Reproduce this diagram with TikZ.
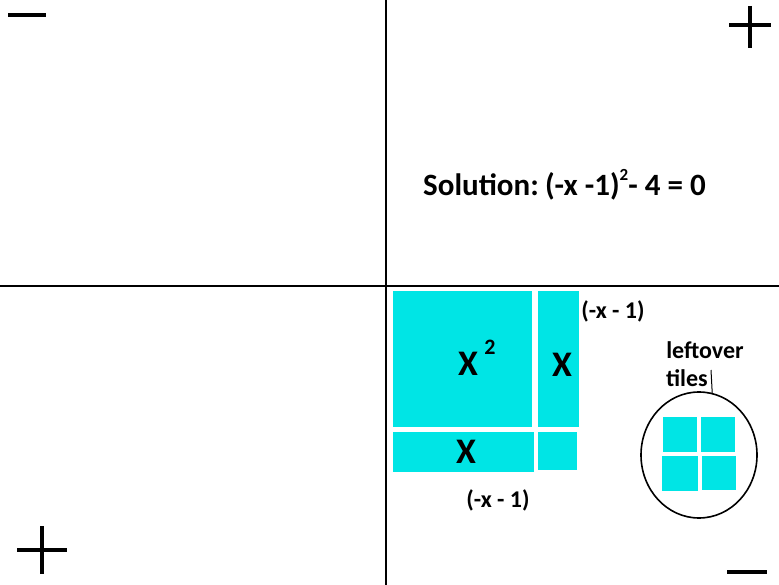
\documentclass[tikz,border=0pt]{standalone}
\usepackage{fontspec}
\setmainfont{Carlito}
\usetikzlibrary{shapes.geometric}
\definecolor{tile}{RGB}{0,229,229}
\tikzset{
  axis/.style={line width=2pt},
  sign/.style={line width=4pt},
  tilebox/.style={fill=tile, draw=none},
  lbl/.style={font=\bfseries\fontsize{24}{26}\selectfont, inner sep=0pt},
  big/.style={font=\bfseries\fontsize{36}{40}\selectfont, inner sep=0pt},
}
\begin{document}
\begin{tikzpicture}[x=1pt,y=-1pt]
\useasboundingbox (0,0) rectangle (779,585);
% axes
\coordinate (vt) at (386,0); \coordinate (vb) at (386,585);
\coordinate (hl) at (0,286); \coordinate (hr) at (779,286);
\draw[axis] (vt) -- (vb);
\draw[axis] (hl) -- (hr);
% signs
\draw[sign] (8,15) -- (46,15);
\draw[sign] (729,25) -- (771,25);
\draw[sign] (750,6) -- (750,48);
\draw[sign] (17,550) -- (67,550);
\draw[sign] (42,526) -- (42,574);
\draw[sign] (727,572) -- (767,572);
% solution
\node[anchor=base west, inner sep=0pt, font=\bfseries\fontsize{31}{34}\selectfont] (sol) at (423,196)
  {Solution:\hspace{-0.1em} (-x -1)\raisebox{0.5em}{\fontsize{17}{18}\selectfont 2}- 4 = 0};
% algebra tiles
\fill[tilebox] (393,291) rectangle (532,427);
\fill[tilebox] (538,291) rectangle (579,427);
\fill[tilebox] (393,432) rectangle (534,472);
\fill[tilebox] (538,432) rectangle (577,470);
\node[big] (x2) at (468,364) {X};
\node[inner sep=0pt, font=\bfseries\fontsize{22}{24}\selectfont] (sup) at (490,347) {2};
\node[big] (xr) at (562,365) {X};
\node[big] (xb) at (466,452) {X};
\node[lbl] (lr) at (613,311) {(-x - 1)};
\node[lbl] (lb) at (498,500) {(-x - 1)};
% leftover
\node[ellipse, draw, line width=1.6pt, minimum width=116pt, minimum height=126pt, inner sep=0pt] (circ) at (699,455) {};
\fill[tilebox] (663,417) rectangle (697,452);
\fill[tilebox] (701,417) rectangle (735,452);
\fill[tilebox] (662,456) rectangle (698,491);
\fill[tilebox] (702,456) rectangle (736,490);
\node[lbl] (lo) at (705,350) {leftover};
\node[lbl] (ti) at (687,378) {tiles};
\coordinate (tk) at (711,370);
\draw[line width=1pt] (tk) -- (circ.78);
\end{tikzpicture}
\end{document}
